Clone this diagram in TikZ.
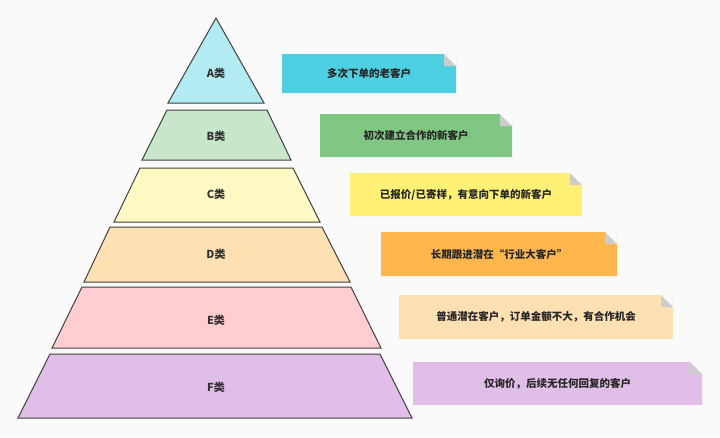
\documentclass[tikz,border=0pt]{standalone}
\usepackage{fontspec}
\setmainfont{Noto Sans CJK SC}
\begin{document}
\begin{tikzpicture}[x=1pt,y=-1pt,
  layer/.style={draw=black!75,line width=1pt},
  lab/.style={font=\bfseries\fontsize{11}{13}\selectfont,text=black!80},
  note/.style={font=\bfseries\fontsize{10.5}{13}\selectfont,text=black!85}]
\fill[black!2] (0,0) rectangle (720,437);
\useasboundingbox (0,0) rectangle (720,437);
\definecolor{cA}{HTML}{B2EBF2}\definecolor{cB}{HTML}{C8E6C9}\definecolor{cC}{HTML}{FFF9C4}
\definecolor{cD}{HTML}{FFE0B2}\definecolor{cE}{HTML}{FFCDD2}\definecolor{cF}{HTML}{E1BEE7}
\definecolor{nA}{HTML}{4DD0E1}\definecolor{nB}{HTML}{81C784}\definecolor{nC}{HTML}{FFF176}
\definecolor{nD}{HTML}{FFB74D}\definecolor{nE}{HTML}{FFE0B2}\definecolor{nF}{HTML}{E1BEE7}
\filldraw[layer,fill=cA] (216,18) -- (264,103) -- (168,103) -- cycle;
\filldraw[layer,fill=cB] (167,110) -- (267,110) -- (291,160) -- (142,160) -- cycle;
\filldraw[layer,fill=cC] (140,168) -- (293,168) -- (320,222) -- (114,222) -- cycle;
\filldraw[layer,fill=cD] (110,227) -- (322,227) -- (350,282) -- (84,282) -- cycle;
\filldraw[layer,fill=cE] (82,287) -- (351,287) -- (381,348) -- (52,348) -- cycle;
\filldraw[layer,fill=cF] (50,354) -- (380,354) -- (412,418) -- (18,418) -- cycle;
\node[lab] (la) at (216,73) {A类};
\node[lab] (lb) at (216,136) {B类};
\node[lab] (lc) at (216,194) {C类};
\node[lab] (ld) at (216,254) {D类};
\node[lab] (le) at (216,320) {E类};
\node[lab] (lf) at (216,387) {F类};
\newcommand{\notebox}[6]{%
  \fill[#5] (#1,#2) -- (#3-12,#2) -- (#3,#2+12) -- (#3,#4) -- (#1,#4) -- cycle;
  \fill[black!20] (#3-12,#2) -- (#3,#2+12) -- (#3-12,#2+12) -- cycle;
  \fill[black!20] (#3-12,#2) -- (#3,#2) -- (#3,#2+12) -- cycle;
  \fill[black!2] (#3-12,#2) -- (#3,#2) -- (#3,#2+12) -- cycle;
  \node[note] at ({(#1+#3)/2},{(#2+#4)/2}) {#6};}
\notebox{282}{54}{456}{93}{nA}{多次下单的老客户}
\notebox{320}{114}{512}{157}{nB}{初次建立合作的新客户}
\notebox{350}{173}{582}{216}{nC}{已报价/已寄样，有意向下单的新客户}
\notebox{381}{232}{617}{276}{nD}{长期跟进潜在“行业大客户”}
\notebox{399}{295}{673}{339}{nE}{普通潜在客户，订单金额不大，有合作机会}
\notebox{413}{362}{702}{405}{nF}{仅询价，后续无任何回复的客户}
\end{tikzpicture}
\end{document}
